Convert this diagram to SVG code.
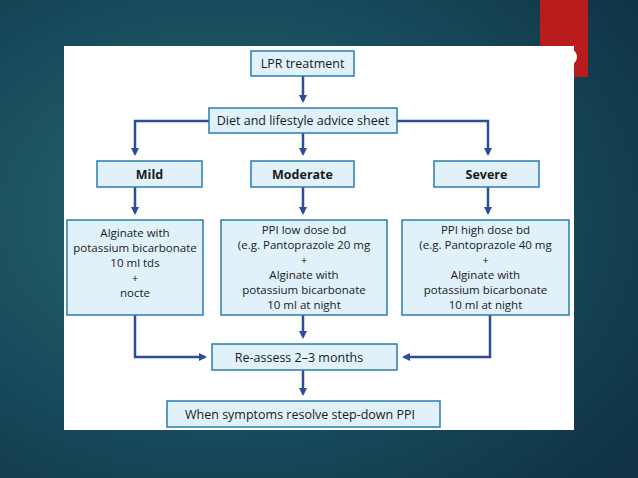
<svg xmlns="http://www.w3.org/2000/svg" width="638" height="478" viewBox="0 0 638 478">
<defs>
<radialGradient id="bg" cx="0.35" cy="0.45" r="0.8"><stop offset="0" stop-color="#2a6a72"/><stop offset="0.6" stop-color="#17495a"/><stop offset="1" stop-color="#0f3345"/></radialGradient>
<marker id="ah" markerWidth="8" markerHeight="8" refX="6" refY="4" orient="auto" markerUnits="userSpaceOnUse"><path d="M0,0 L8,4 L0,8 Z" fill="#2d4d9b"/></marker>
<style>
.b{fill:#e0f1fa;stroke:#2b7cb3;stroke-width:1.5}
.t{font-family:"Open Sans","Liberation Sans",sans-serif;font-size:12.5px;fill:#1a1a1a;text-anchor:middle}
.s{font-size:11.5px}
.h{font-weight:bold}
.c{fill:none;stroke:#2d4d9b;stroke-width:2.5}
</style>
</defs>
<rect width="638" height="478" fill="url(#bg)"/>
<rect x="540" y="0" width="48" height="77" fill="#b81c1c"/>
<rect x="64" y="46" width="510" height="384" fill="#fff"/>
<circle cx="569" cy="57" r="8" fill="#fff"/>
<g id="connectors">
<path class="c" d="M303,76 V101" marker-end="url(#ah)"/>
<path class="c" d="M209,121 H135 V154" marker-end="url(#ah)"/>
<path class="c" d="M397,121 H488 V154" marker-end="url(#ah)"/>
<path class="c" d="M303,133 V154" marker-end="url(#ah)"/>
<path class="c" d="M135,187 V213" marker-end="url(#ah)"/>
<path class="c" d="M303,187 V213" marker-end="url(#ah)"/>
<path class="c" d="M488,187 V213" marker-end="url(#ah)"/>
<path class="c" d="M303,315 V337" marker-end="url(#ah)"/>
<path class="c" d="M135,315 V357 H205" marker-end="url(#ah)"/>
<path class="c" d="M490,315 V357 H404" marker-end="url(#ah)"/>
<path class="c" d="M303,370 V394" marker-end="url(#ah)"/>
</g>
<g id="n1"><rect class="b" x="251" y="51" width="103" height="25"/><text class="t" x="302.5" y="68">LPR treatment</text></g>
<g id="n2"><rect class="b" x="209" y="108" width="188" height="25"/><text class="t" x="303" y="125">Diet and lifestyle advice sheet</text></g>
<g id="n3"><rect class="b" x="97" y="161" width="105" height="26"/><text class="t h" x="149.5" y="178.5">Mild</text></g>
<g id="n4"><rect class="b" x="251" y="161" width="103" height="26"/><text class="t h" x="302.5" y="178.5">Moderate</text></g>
<g id="n5"><rect class="b" x="434" y="161" width="105" height="26"/><text class="t h" x="486.5" y="178.5">Severe</text></g>
<g id="n6"><rect class="b" x="67" y="220" width="136" height="95"/>
<text class="t s" x="135" y="237">Alginate with</text><text class="t s" x="135" y="252">potassium bicarbonate</text><text class="t s" x="135" y="267">10 ml tds</text><text class="t s" x="135" y="282">+</text><text class="t s" x="135" y="297">nocte</text></g>
<g id="n7"><rect class="b" x="221" y="220" width="166" height="95"/>
<text class="t s" x="304" y="234">PPI low dose bd</text><text class="t s" x="304" y="249">(e.g. Pantoprazole 20 mg</text><text class="t s" x="304" y="264">+</text><text class="t s" x="304" y="279">Alginate with</text><text class="t s" x="304" y="294">potassium bicarbonate</text><text class="t s" x="304" y="309">10 ml at night</text></g>
<g id="n8"><rect class="b" x="402" y="220" width="167" height="95"/>
<text class="t s" x="485.5" y="234">PPI high dose bd</text><text class="t s" x="485.5" y="249">(e.g. Pantoprazole 40 mg</text><text class="t s" x="485.5" y="264">+</text><text class="t s" x="485.5" y="279">Alginate with</text><text class="t s" x="485.5" y="294">potassium bicarbonate</text><text class="t s" x="485.5" y="309">10 ml at night</text></g>
<g id="n9"><rect class="b" x="212" y="344" width="185" height="26"/><text class="t" x="299" y="362">Re-assess 2–3 months</text></g>
<g id="n10"><rect class="b" x="167" y="401" width="273" height="26"/><text class="t" x="300" y="419">When symptoms resolve step-down PPI</text></g>
</svg>
